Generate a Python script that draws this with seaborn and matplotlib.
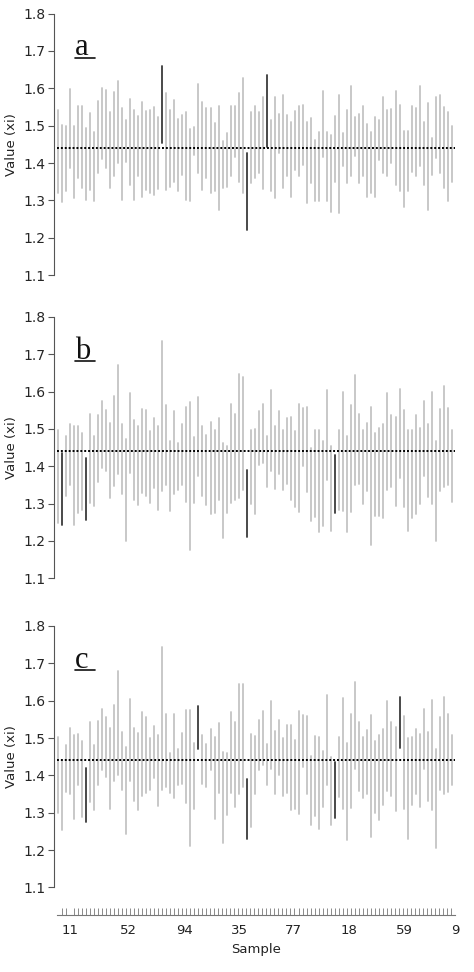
import numpy as np
import pandas as pd
import seaborn as sns
import matplotlib.pyplot as plt

# panel a: high / low of every sample range
a_hi = [1.543, 1.502, 1.498, 1.598, 1.498, 1.552, 1.553, 1.493, 1.534, 1.482,
        1.567, 1.601, 1.596, 1.536, 1.590, 1.620, 1.547, 1.516, 1.571, 1.543,
        1.525, 1.563, 1.540, 1.541, 1.549, 1.523, 1.659, 1.587, 1.543, 1.569,
        1.518, 1.529, 1.536, 1.491, 1.496, 1.611, 1.563, 1.547, 1.547, 1.507,
        1.552, 1.460, 1.480, 1.552, 1.553, 1.587, 1.627, 1.428, 1.536, 1.552,
        1.536, 1.578, 1.636, 1.516, 1.578, 1.532, 1.583, 1.529, 1.511, 1.540,
        1.552, 1.556, 1.511, 1.520, 1.462, 1.484, 1.592, 1.484, 1.476, 1.527,
        1.583, 1.480, 1.543, 1.607, 1.523, 1.531, 1.552, 1.504, 1.484, 1.522,
        1.516, 1.578, 1.543, 1.545, 1.594, 1.556, 1.486, 1.486, 1.552, 1.547,
        1.607, 1.510, 1.560, 1.467, 1.577, 1.583, 1.549, 1.536, 1.498]
a_lo = [1.319, 1.295, 1.324, 1.386, 1.306, 1.359, 1.333, 1.301, 1.328, 1.297,
        1.373, 1.410, 1.386, 1.333, 1.364, 1.400, 1.301, 1.404, 1.341, 1.301,
        1.364, 1.310, 1.328, 1.319, 1.315, 1.330, 1.453, 1.328, 1.337, 1.350,
        1.324, 1.368, 1.301, 1.297, 1.422, 1.373, 1.328, 1.359, 1.319, 1.324,
        1.273, 1.333, 1.337, 1.364, 1.417, 1.350, 1.320, 1.221, 1.346, 1.359,
        1.373, 1.330, 1.444, 1.324, 1.306, 1.426, 1.333, 1.364, 1.310, 1.382,
        1.364, 1.395, 1.292, 1.346, 1.297, 1.297, 1.417, 1.297, 1.270, 1.350,
        1.266, 1.391, 1.346, 1.364, 1.420, 1.346, 1.364, 1.310, 1.319, 1.310,
        1.409, 1.373, 1.364, 1.400, 1.341, 1.324, 1.283, 1.324, 1.377, 1.364,
        1.391, 1.341, 1.275, 1.368, 1.413, 1.373, 1.333, 1.297, 1.350]
a_dark = [26, 47, 52]

b_hi = [1.498, 1.436, 1.480, 1.513, 1.507, 1.507, 1.489, 1.422, 1.541, 1.480,
        1.537, 1.574, 1.550, 1.516, 1.588, 1.672, 1.513, 1.474, 1.595, 1.525,
        1.507, 1.554, 1.552, 1.494, 1.530, 1.509, 1.735, 1.563, 1.467, 1.549,
        1.463, 1.512, 1.559, 1.571, 1.478, 1.585, 1.509, 1.483, 1.519, 1.496,
        1.530, 1.463, 1.454, 1.567, 1.541, 1.646, 1.638, 1.391, 1.498, 1.501,
        1.547, 1.568, 1.482, 1.603, 1.509, 1.547, 1.498, 1.530, 1.532, 1.494,
        1.568, 1.556, 1.558, 1.449, 1.496, 1.498, 1.467, 1.603, 1.454, 1.429,
        1.496, 1.598, 1.482, 1.563, 1.644, 1.541, 1.496, 1.516, 1.559, 1.489,
        1.503, 1.512, 1.595, 1.536, 1.532, 1.608, 1.552, 1.498, 1.498, 1.536,
        1.503, 1.576, 1.514, 1.598, 1.467, 1.554, 1.614, 1.556, 1.498]
b_lo = [1.248, 1.244, 1.320, 1.349, 1.244, 1.275, 1.284, 1.257, 1.302, 1.293,
        1.358, 1.396, 1.388, 1.315, 1.346, 1.379, 1.326, 1.201, 1.382, 1.311,
        1.297, 1.329, 1.320, 1.302, 1.342, 1.284, 1.333, 1.351, 1.281, 1.326,
        1.337, 1.351, 1.304, 1.177, 1.302, 1.373, 1.320, 1.297, 1.271, 1.275,
        1.311, 1.208, 1.275, 1.302, 1.311, 1.315, 1.337, 1.210, 1.299, 1.271,
        1.404, 1.409, 1.344, 1.388, 1.339, 1.379, 1.336, 1.353, 1.309, 1.290,
        1.277, 1.400, 1.330, 1.254, 1.263, 1.223, 1.239, 1.364, 1.228, 1.275,
        1.284, 1.281, 1.223, 1.277, 1.349, 1.353, 1.300, 1.333, 1.190, 1.266,
        1.266, 1.262, 1.336, 1.344, 1.295, 1.369, 1.290, 1.226, 1.262, 1.273,
        1.300, 1.373, 1.317, 1.300, 1.199, 1.335, 1.345, 1.351, 1.304]
b_dark = [1, 7, 47, 69]

c_hi = [1.502, 1.441, 1.482, 1.527, 1.507, 1.511, 1.493, 1.421, 1.543, 1.482,
        1.545, 1.579, 1.555, 1.527, 1.589, 1.679, 1.515, 1.475, 1.605, 1.527,
        1.514, 1.570, 1.555, 1.500, 1.532, 1.509, 1.744, 1.565, 1.461, 1.564,
        1.471, 1.514, 1.575, 1.575, 1.486, 1.586, 1.509, 1.484, 1.525, 1.502,
        1.541, 1.462, 1.459, 1.571, 1.543, 1.644, 1.644, 1.391, 1.511, 1.505,
        1.548, 1.573, 1.485, 1.600, 1.518, 1.547, 1.500, 1.535, 1.535, 1.495,
        1.573, 1.561, 1.559, 1.452, 1.505, 1.503, 1.464, 1.614, 1.450, 1.436,
        1.502, 1.606, 1.488, 1.565, 1.650, 1.543, 1.503, 1.521, 1.562, 1.491,
        1.507, 1.525, 1.598, 1.543, 1.530, 1.609, 1.559, 1.500, 1.503, 1.525,
        1.511, 1.579, 1.515, 1.602, 1.470, 1.556, 1.611, 1.564, 1.507]
c_lo = [1.300, 1.255, 1.355, 1.350, 1.284, 1.375, 1.289, 1.275, 1.330, 1.307,
        1.375, 1.414, 1.395, 1.311, 1.384, 1.400, 1.361, 1.244, 1.384, 1.332,
        1.307, 1.345, 1.352, 1.361, 1.394, 1.318, 1.361, 1.370, 1.352, 1.339,
        1.375, 1.377, 1.325, 1.211, 1.309, 1.470, 1.377, 1.370, 1.415, 1.284,
        1.352, 1.218, 1.293, 1.352, 1.315, 1.350, 1.368, 1.230, 1.261, 1.350,
        1.414, 1.427, 1.373, 1.418, 1.350, 1.400, 1.345, 1.353, 1.307, 1.309,
        1.297, 1.423, 1.350, 1.266, 1.291, 1.257, 1.316, 1.373, 1.266, 1.285,
        1.343, 1.309, 1.227, 1.312, 1.418, 1.357, 1.339, 1.350, 1.236, 1.298,
        1.280, 1.321, 1.357, 1.345, 1.305, 1.473, 1.309, 1.230, 1.321, 1.350,
        1.315, 1.418, 1.332, 1.306, 1.205, 1.361, 1.350, 1.355, 1.375]
c_dark = [7, 35, 47, 69, 85]

mean_value = 1.44
sample_labels = ['11', '52', '94', '35', '77', '18', '59', '9']
sample_label_pos = [3, 17.7, 31.6, 45.3, 58.7, 72.6, 86.3, 99]

sns.set_style("white")
plt.rcParams['font.family'] = ['DejaVu Sans']

fig = plt.figure(figsize=(4.74, 9.72), dpi=100)
panels = [('a', a_hi, a_lo, a_dark, 0.717),
          ('b', b_hi, b_lo, b_dark, 0.405),
          ('c', c_hi, c_lo, c_dark, 0.087)]
left, width = 0.12, 0.84

for letter, hi, lo, dark, bottom in panels:
    ax = fig.add_axes([left, bottom, width, 0.269])
    n = len(hi)
    df = pd.DataFrame({
        'sample': list(range(n)) * 2,
        'value': hi + lo,
        'kind': ['dark' if i in dark else 'light' for i in range(n)] * 2,
    })
    sns.lineplot(data=df, x='sample', y='value', units='sample', estimator=None,
                 hue='kind', palette={'light': '#c4c4c4', 'dark': '#3a3a3a'},
                 linewidth=1.3, legend=False, ax=ax)
    ax.axhline(mean_value, color='black', linestyle=(0, (1.0, 1.0)), linewidth=1.4)
    ax.set_xlim(-0.2, 98.8)
    ax.set_ylim(1.1, 1.8)
    ax.set_yticks(np.arange(1.1, 1.81, 0.1))
    ax.set_yticklabels([f'{v:.1f}' for v in np.arange(1.1, 1.81, 0.1)], fontsize=9.5, color='#333333')
    ax.set_xticks([])
    ax.set_xlabel('')
    ax.set_ylabel('Value (xi)', fontsize=9.5, color='#222222')
    for s in ['top', 'right', 'bottom']:
        ax.spines[s].set_visible(False)
    ax.spines['left'].set_color('#555555')
    ax.spines['left'].set_position(('outward', 2))
    ax.tick_params(axis='y', left=True, length=4, color='#555555', pad=2)
    ax.text(0.045, 0.84, letter, transform=ax.transAxes, fontsize=22,
            family='Liberation Serif', color='#111111')
    ax.plot([0.045, 0.095], [0.83, 0.83], transform=ax.transAxes, color='#111111', linewidth=1.2)

axb = fig.add_axes([left, 0.059, width, 0.001])
axb.set_xlim(-0.2, 98.8)
axb.set_yticks([])
axb.set_xticks(np.arange(1, 99), minor=True)
axb.set_xticks(sample_label_pos)
axb.set_xticklabels(sample_labels, fontsize=9.5, color='#222222')
axb.tick_params(axis='x', which='minor', bottom=True, direction='in', length=5, color='#777777', width=0.6)
axb.tick_params(axis='x', which='major', bottom=True, length=0, pad=7)
for s in ['top', 'right', 'left']:
    axb.spines[s].set_visible(False)
axb.spines['bottom'].set_color('#777777')
axb.set_xlabel('Sample', fontsize=9.5, color='#222222', labelpad=4)

fig.savefig('out.png', dpi=100)
